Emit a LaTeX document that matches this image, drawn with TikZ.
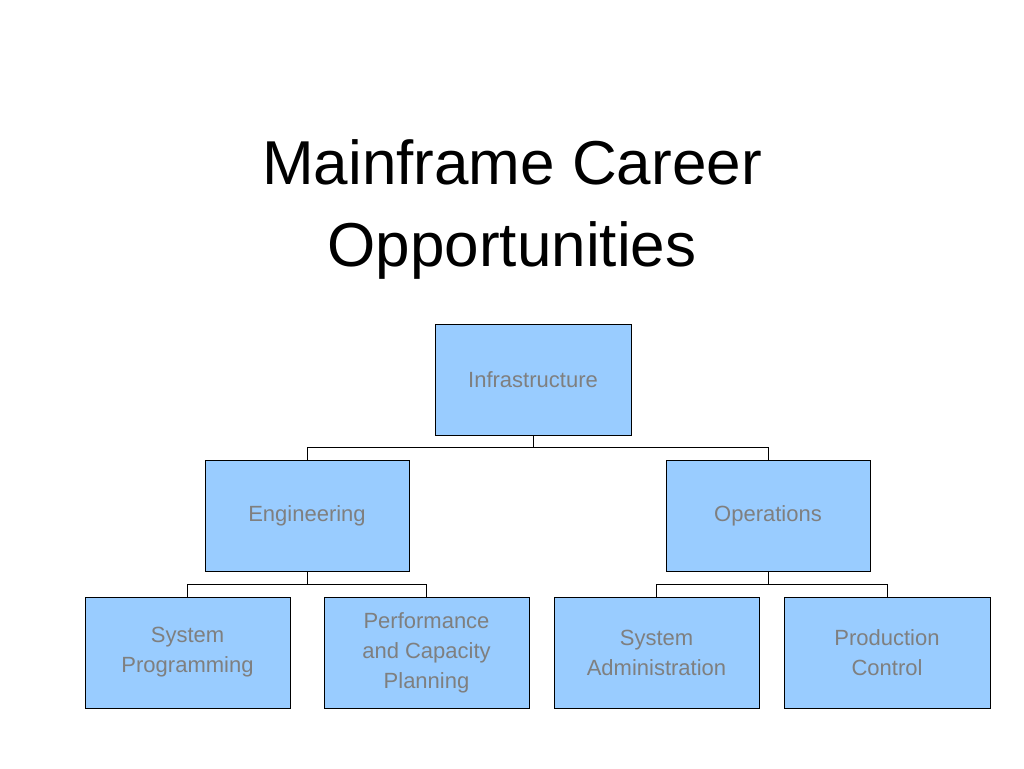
\documentclass[tikz,border=0pt]{standalone}
\usepackage{fontspec}
\setmainfont{Liberation Sans}
\definecolor{boxblue}{HTML}{99CCFF}
\definecolor{txtgray}{HTML}{7F7F7F}
\begin{document}
\begin{tikzpicture}[x=1pt,y=-1pt,
  box/.style={draw=black,fill=boxblue,minimum width=#1,minimum height=111pt,inner sep=0pt,
    font=\fontsize{22}{30}\selectfont,text=txtgray,align=center},
  box/.default=205pt,
  conn/.style={draw=black,line width=0.8pt}]
\useasboundingbox (0,0) rectangle (1024,768);
\node[font=\fontsize{62}{82}\selectfont,align=center] (title) at (512,209) {Mainframe Career\\Opportunities};
\node[box=196pt] (inf) at (533,379.5) {Infrastructure};
\node[box=204pt] (eng) at (307,515.5) {Engineering};
\node[box=204pt] (ops) at (768,515.5) {Operations};
\node[box] (sp) at (187.5,652.5) {System\\Programming};
\node[box] (pc) at (426.5,652.5) {Performance\\and Capacity\\Planning};
\node[box] (sa) at (656.5,652.5) {System\\Administration};
\node[box=206pt] (pr) at (887,652.5) {Production\\Control};
\draw[conn] (inf.south) -- ++(0,12) -| (eng.north);
\draw[conn] (inf.south) -- ++(0,12) -| (ops.north);
\draw[conn] (eng.south) -- ++(0,13) -| (sp.north);
\draw[conn] (eng.south) -- ++(0,13) -| (pc.north);
\draw[conn] (ops.south) -- ++(0,13) -| (sa.north);
\draw[conn] (ops.south) -- ++(0,13) -| (pr.north);
\end{tikzpicture}
\end{document}
